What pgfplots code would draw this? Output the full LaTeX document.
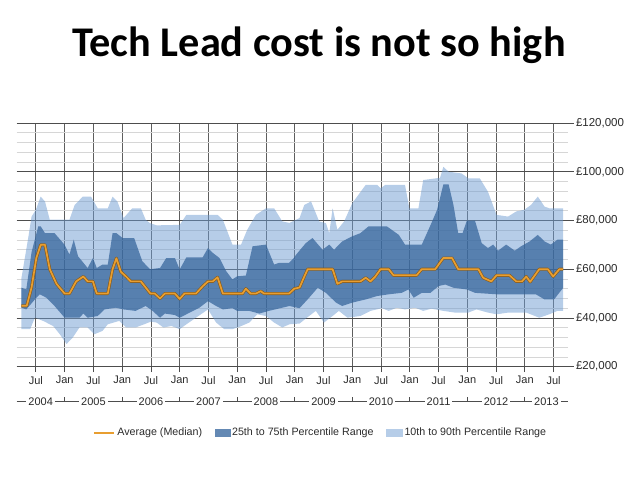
\documentclass[border=0pt]{standalone}
\usepackage{fontspec}
\setmainfont{Liberation Sans}
\newfontfamily\titlefont{Carlito}
\usepackage{pgfplots}
\usepackage{pgfplotstable}
\pgfplotsset{compat=1.18}
\usepgfplotslibrary{fillbetween}

\definecolor{gridmajor}{HTML}{4D4D4D}
\definecolor{gridminor}{HTML}{D6D6D6}
\definecolor{gridvert}{HTML}{5E5E5E}
\definecolor{bandlight}{RGB}{109,155,209}
\definecolor{banddark}{RGB}{48,96,152}
\definecolor{legdark}{RGB}{100,137,180}
\definecolor{leglight}{RGB}{182,205,232}
\definecolor{medorange}{RGB}{232,158,48}
\definecolor{medbrown}{RGB}{135,92,30}
\definecolor{txt}{HTML}{2B2B2B}
\newcommand\chartfont{\fontsize{10.7}{12.8}\selectfont}
\newcommand\xfont{\fontsize{11}{13}\selectfont}
\newcommand\yfont{\fontsize{11.5}{13.5}\selectfont}

% months counted from Jan 2004 = 0
\pgfplotstableread{
m v
3 45000
4.1 45000
5.1 52500
6.1 64600
7 70000
7.9 70000
8.9 60000
10.3 54000
12 50000
13 50000
14.4 55000
15.9 57000
16.8 55000
17.9 55000
18.7 50000
21 50000
22 60000
22.8 64500
23.7 59000
24.8 57000
25.8 55000
27.9 55000
28.9 52500
29.9 50000
30.8 50000
31.9 48000
32.9 50000
35 50000
36 47800
37 50000
39.4 50000
40.8 53000
41.9 55000
42.9 55000
43.9 56700
45 50000
49.1 50000
49.8 52000
50.8 50000
51.9 50000
52.9 51000
53.6 50000
58.8 50000
59.9 52000
61 52500
62 57000
62.7 60000
67.9 60000
68.9 54000
69.9 55000
73.7 55000
74.8 56500
75.8 55000
76.8 57000
77.9 60000
79.6 60000
80.6 57500
85.4 57500
86.5 60000
89.3 60000
91 64600
92.8 64600
94.1 60000
98.3 60000
99.3 56500
101 55000
102.1 57500
104.8 57500
106.2 55000
107.4 55000
108.3 57000
109.1 54800
111 60000
112.8 60000
113.9 57000
115.2 60000
116 60000
}\median

\pgfplotstableread{
m v
3 52400
4 51700
5.1 67000
6.5 77600
7 77600
7.9 74800
9.9 74800
12 70000
13 66000
13.9 72100
14.8 65300
16.8 60500
17.9 64600
18.7 60500
19.9 61900
21 61900
22 74800
22.8 74800
24.1 72800
26.5 72800
28.2 63300
29.8 60000
31.9 60500
33.2 64600
35 64600
36 59900
37.4 64900
40.8 64900
41.9 68700
42.9 66700
44.3 64600
45.7 59200
47 55800
48 57100
49.8 57400
51.2 69400
54 70100
55.7 61900
56.7 62600
58.8 62600
59.8 64600
60.3 66000
62.3 70700
63.7 72800
65.8 68000
67.2 70100
68.2 68000
69.9 71400
72 73500
73.7 74800
75.4 77600
79.2 77600
81.7 74100
83 70100
86.5 70100
88.3 78000
89.7 84400
91 94800
92.1 94800
93.1 86400
94.1 74800
95 74800
95.9 79900
97.6 79900
99 70700
100.3 68700
101.4 70100
102.4 67600
104.1 70100
105.9 67600
107.2 69400
109 71400
110.7 74100
112.1 71400
113.4 70100
114.8 72100
116 72100
}\pseventyfive

\pgfplotstableread{
m v
3 44200
4 43500
5.8 47600
6.8 49700
8.2 48300
9.9 44900
12 40100
15.1 40100
15.9 41800
16.8 40100
18.9 40800
20.3 43500
22.7 44200
24.3 43500
26.8 42900
28.9 44900
30.3 43000
31.9 40100
32.9 41800
35 41200
36 40100
37.4 41500
40.1 44200
41.9 46900
43.6 44900
45 43500
47 44000
48 42900
50.5 42900
52.6 41800
54.6 42900
57.4 44200
58.9 44900
61 44000
63 48300
64.8 52400
66.5 50300
68.6 46300
69.9 44900
72 46300
74.8 47600
77.2 49000
79.6 49700
82.3 50300
83.7 51700
84.8 48300
86.5 50300
88.3 50300
90 53100
91.4 53700
93.1 52400
95.9 51700
97.6 50300
102.1 49700
110.3 49700
112.1 47600
114.1 47600
116 52400
}\ptwentyfive

\pgfplotstableread{
m v
3 56500
4.4 72800
5.1 81600
6 84400
7 89800
7.9 87800
8.9 80300
13 80300
14.1 86400
15.8 89800
17.5 89800
18.9 85000
21 85000
22 89800
23 87800
24.3 81000
26.1 85000
27.9 85000
28.9 80300
29.8 78900
31.2 78000
36 78200
37.4 82300
43.9 82300
45 80300
47 70100
48.8 70100
50.1 76200
51.9 82300
54 85000
55.7 85000
57.4 79600
58.9 79000
61 81000
62 86400
63.4 87800
65.1 79600
66.5 78900
67.2 74800
67.9 85000
68.9 76200
70.3 79600
72 87100
74.8 94600
77.2 94600
77.9 93200
78.9 94600
83 94600
83.9 85000
85.8 85000
86.8 96600
90.3 97500
91 102000
92.1 100000
94.8 99300
96.2 97300
98.6 97300
100.3 91800
102.1 82300
104.5 81600
106.2 83700
107.9 84400
109.3 86400
110.7 89800
112.1 85700
113.1 85000
116 85000
}\pninety

\pgfplotstableread{
m v
3 35400
4.8 35400
5.8 40100
7.5 38800
9.6 36700
11 33300
12.4 29300
13.7 32000
15.1 36100
16.8 36100
18.2 33300
19.9 34700
21 37400
23.4 38800
24.8 36100
26.8 36100
28.6 37400
30 38500
31.2 38100
32.6 36100
34.3 36700
36 35400
37.4 37400
39.4 40100
41.9 43500
43.6 38100
45.3 35400
47 35400
48.4 36300
50.5 38100
52.2 41500
54 40800
55.7 38100
57.4 36100
58.9 37400
61 37700
63 40800
64.4 42900
66.1 38100
67.9 40800
69.2 42900
71 40100
73.7 40800
75.8 42900
78.2 44000
79.6 42900
81.3 44200
83 43500
85.1 44200
86.8 42900
88.5 43800
91 42900
93.4 42200
96.2 42200
97.9 43500
100.3 42200
102.1 41500
104.5 42200
108.3 42200
111 40100
113.1 41500
114.8 42900
116 42900
}\pten

\begin{document}
\begin{tikzpicture}[font=\chartfont]
\node[anchor=base, font=\titlefont\fontsize{42.3}{50}\selectfont\bfseries]
  at (319pt,421.3pt) {Tech Lead cost is not so high};
\begin{axis}[
  at={(16.7pt,111.3pt)}, anchor=south west,
  scale only axis, width=551.3pt, height=243.7pt,
  xmin=2, xmax=117, ymin=20000, ymax=120000,
  axis line style={draw=none},
  xtick={6,12,...,114},
  xticklabels={Jul,Jan,Jul,Jan,Jul,Jan,Jul,Jan,Jul,Jan,Jul,Jan,Jul,Jan,Jul,Jan,Jul,Jan,Jul},
  ytick={20000,40000,...,120000},
  minor y tick num=4,
  xtick pos=left, ytick pos=right, yticklabel pos=right,
  tick align=outside, major tick length=5.5pt, minor tick length=0pt,
  xmajorgrids, ymajorgrids, yminorgrids,
  major x grid style={gridvert, line width=0.8pt},
  major y grid style={gridmajor, line width=0.9pt},
  minor y grid style={gridminor, line width=0.8pt},
  tick style={gridmajor, line width=0.8pt},
  scaled y ticks=false,
  yticklabel={£\pgfmathprintnumber{\tick}},
  /pgf/number format/.cd, fixed, 1000 sep={,}, assume math mode=true, /pgfplots/.cd,
  xticklabel style={font=\xfont, text=txt, yshift=-0.5pt},
  yticklabel style={font=\yfont, text=txt, xshift=-1pt},
  clip=false,
  legend columns=3,
  legend cell align=left,
  legend style={at={(0.1379,-0.2708)}, anchor=west, draw=none, fill=none,
    inner xsep=0pt, inner ysep=0pt, nodes={inner sep=2pt},
    font=\chartfont, text=txt,
    /tikz/every even column/.append style={column sep=10.5pt}},
]
\addplot[name path=p90, draw=none, forget plot] table {\pninety};
\addplot[name path=p10, draw=none, forget plot] table {\pten};
\addplot[fill=bandlight, fill opacity=0.5, draw=none, forget plot] fill between[of=p90 and p10];
\addplot[name path=p75, draw=none, forget plot] table {\pseventyfive};
\addplot[name path=p25, draw=none, forget plot] table {\ptwentyfive};
\addplot[fill=banddark, fill opacity=0.7, draw=none, forget plot] fill between[of=p75 and p25];
\addplot[medbrown, line width=3pt, line join=round, forget plot] table {\median};
\addplot[medorange, line width=1.7pt, line join=round, forget plot] table {\median};

\addlegendimage{legend image code/.code={\draw[medorange, line width=2pt] (0pt,0pt) -- (20.4pt,0pt);}}
\addlegendentry{Average (Median)}
\addlegendimage{legend image code/.code={\fill[legdark] (0pt,-3.5pt) rectangle (15pt,3.5pt);}}
\addlegendentry{25th to 75th Percentile Range}
\addlegendimage{legend image code/.code={\fill[leglight] (0pt,-3.5pt) rectangle (16pt,3.5pt);}}
\addlegendentry{10th to 90th Percentile Range}

% year row under the month labels
\draw[gridmajor, line width=0.8pt] ([yshift=-35pt]axis cs:2,20000) -- ([yshift=-35pt]axis cs:117,20000);
\pgfplotsinvokeforeach{12,24,...,108}{
  \draw[gridmajor, line width=0.8pt] ([yshift=-35pt]axis cs:#1,20000) -- ([yshift=-30.5pt]axis cs:#1,20000);
}
\node[fill=white, inner xsep=2pt, inner ysep=1pt, text=txt, font=\xfont] at ([yshift=-35pt]axis cs:7,20000) {2004};
\node[fill=white, inner xsep=2pt, inner ysep=1pt, text=txt, font=\xfont] at ([yshift=-35pt]axis cs:18,20000) {2005};
\node[fill=white, inner xsep=2pt, inner ysep=1pt, text=txt, font=\xfont] at ([yshift=-35pt]axis cs:30,20000) {2006};
\node[fill=white, inner xsep=2pt, inner ysep=1pt, text=txt, font=\xfont] at ([yshift=-35pt]axis cs:42,20000) {2007};
\node[fill=white, inner xsep=2pt, inner ysep=1pt, text=txt, font=\xfont] at ([yshift=-35pt]axis cs:54,20000) {2008};
\node[fill=white, inner xsep=2pt, inner ysep=1pt, text=txt, font=\xfont] at ([yshift=-35pt]axis cs:66,20000) {2009};
\node[fill=white, inner xsep=2pt, inner ysep=1pt, text=txt, font=\xfont] at ([yshift=-35pt]axis cs:78,20000) {2010};
\node[fill=white, inner xsep=2pt, inner ysep=1pt, text=txt, font=\xfont] at ([yshift=-35pt]axis cs:90,20000) {2011};
\node[fill=white, inner xsep=2pt, inner ysep=1pt, text=txt, font=\xfont] at ([yshift=-35pt]axis cs:102,20000) {2012};
\node[fill=white, inner xsep=2pt, inner ysep=1pt, text=txt, font=\xfont] at ([yshift=-35pt]axis cs:112.5,20000) {2013};
\end{axis}
\pgfresetboundingbox
\path (0pt,0pt) rectangle (638pt,478pt);
\end{tikzpicture}
\end{document}
